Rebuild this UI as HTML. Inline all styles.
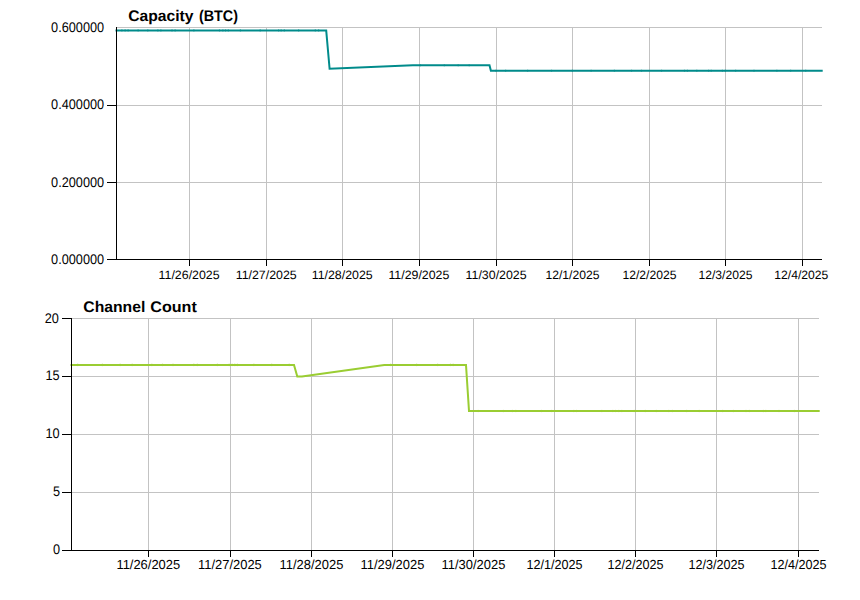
<!DOCTYPE html>
<html><head><meta charset="utf-8"><title>Charts</title>
<style>
html,body{margin:0;padding:0;background:#fff;}
svg{display:block;}
text{font-family:"Liberation Sans",Arial,sans-serif;fill:#000;text-rendering:geometricPrecision;}
</style></head>
<body>
<svg width="860" height="600" viewBox="0 0 860 600">
<rect width="860" height="600" fill="#fff"/>
<rect x="189" y="27" width="1" height="232" fill="#c3c3c3"/>
<rect x="266" y="27" width="1" height="232" fill="#c3c3c3"/>
<rect x="342" y="27" width="1" height="232" fill="#c3c3c3"/>
<rect x="419" y="27" width="1" height="232" fill="#c3c3c3"/>
<rect x="496" y="27" width="1" height="232" fill="#c3c3c3"/>
<rect x="572" y="27" width="1" height="232" fill="#c3c3c3"/>
<rect x="649" y="27" width="1" height="232" fill="#c3c3c3"/>
<rect x="725" y="27" width="1" height="232" fill="#c3c3c3"/>
<rect x="802" y="27" width="1" height="232" fill="#c3c3c3"/>
<rect x="117" y="27" width="705" height="1" fill="#c3c3c3"/>
<rect x="117" y="105" width="705" height="1" fill="#c3c3c3"/>
<rect x="117" y="182" width="705" height="1" fill="#c3c3c3"/>
<path d="M115.5,30.4 L326.2,30.4 L329.6,68.8 L412.8,65.2 L489.5,65.2 L490.9,70.75 L822.7,70.75" fill="none" stroke="#008b8b" stroke-width="2" stroke-linejoin="miter"/>
<rect x="116" y="27" width="1" height="233" fill="#000"/>
<rect x="116" y="259" width="706" height="1" fill="#000"/>
<rect x="107" y="105" width="9" height="1" fill="#000"/>
<rect x="107" y="182" width="9" height="1" fill="#000"/>
<rect x="107" y="259" width="9" height="1" fill="#000"/>
<rect x="189" y="260" width="1" height="6" fill="#000"/>
<rect x="266" y="260" width="1" height="6" fill="#000"/>
<rect x="342" y="260" width="1" height="6" fill="#000"/>
<rect x="419" y="260" width="1" height="6" fill="#000"/>
<rect x="496" y="260" width="1" height="6" fill="#000"/>
<rect x="572" y="260" width="1" height="6" fill="#000"/>
<rect x="649" y="260" width="1" height="6" fill="#000"/>
<rect x="725" y="260" width="1" height="6" fill="#000"/>
<rect x="802" y="260" width="1" height="6" fill="#000"/>
<text x="104.2" y="31.6" text-anchor="end" font-size="14" textLength="53.1" lengthAdjust="spacingAndGlyphs">0.600000</text>
<text x="104.2" y="108.6" text-anchor="end" font-size="14" textLength="53.1" lengthAdjust="spacingAndGlyphs">0.400000</text>
<text x="104.2" y="186.5" text-anchor="end" font-size="14" textLength="53.1" lengthAdjust="spacingAndGlyphs">0.200000</text>
<text x="104.2" y="263.6" text-anchor="end" font-size="14" textLength="53.1" lengthAdjust="spacingAndGlyphs">0.000000</text>
<text x="189.10" y="278.8" text-anchor="middle" font-size="12.1" textLength="61.0" lengthAdjust="spacingAndGlyphs">11/26/2025</text>
<text x="266.20" y="278.8" text-anchor="middle" font-size="12.1" textLength="61.0" lengthAdjust="spacingAndGlyphs">11/27/2025</text>
<text x="342.20" y="278.8" text-anchor="middle" font-size="12.1" textLength="61.0" lengthAdjust="spacingAndGlyphs">11/28/2025</text>
<text x="418.90" y="278.8" text-anchor="middle" font-size="12.1" textLength="61.0" lengthAdjust="spacingAndGlyphs">11/29/2025</text>
<text x="496.10" y="278.8" text-anchor="middle" font-size="12.1" textLength="61.0" lengthAdjust="spacingAndGlyphs">11/30/2025</text>
<text x="572.50" y="278.8" text-anchor="middle" font-size="12.1" textLength="54.0" lengthAdjust="spacingAndGlyphs">12/1/2025</text>
<text x="649.50" y="278.8" text-anchor="middle" font-size="12.1" textLength="54.0" lengthAdjust="spacingAndGlyphs">12/2/2025</text>
<text x="725.50" y="278.8" text-anchor="middle" font-size="12.1" textLength="54.0" lengthAdjust="spacingAndGlyphs">12/3/2025</text>
<text x="801.30" y="278.8" text-anchor="middle" font-size="12.1" textLength="54.0" lengthAdjust="spacingAndGlyphs">12/4/2025</text>
<text x="128.3" y="20.7" font-weight="bold" text-rendering="geometricPrecision" font-size="15.4" textLength="65.2" lengthAdjust="spacingAndGlyphs">Capacity</text>
<text x="199.0" y="20.7" font-weight="bold" text-rendering="geometricPrecision" font-size="15.4" textLength="39.0" lengthAdjust="spacingAndGlyphs">(BTC)</text>
<g><ellipse cx="121.9" cy="30.40" rx="0.75" ry="1.3" fill="#008b8b" fill-opacity="0.5"/>
<ellipse cx="125.1" cy="30.40" rx="0.75" ry="1.3" fill="#008b8b" fill-opacity="0.5"/>
<ellipse cx="128.1" cy="30.40" rx="0.75" ry="1.3" fill="#008b8b" fill-opacity="0.5"/>
<ellipse cx="138.1" cy="30.40" rx="0.75" ry="1.3" fill="#008b8b" fill-opacity="0.5"/>
<ellipse cx="147.8" cy="30.40" rx="0.75" ry="1.3" fill="#008b8b" fill-opacity="0.5"/>
<ellipse cx="157.9" cy="30.40" rx="0.75" ry="1.3" fill="#008b8b" fill-opacity="0.5"/>
<ellipse cx="160.9" cy="30.40" rx="0.75" ry="1.3" fill="#008b8b" fill-opacity="0.5"/>
<ellipse cx="172.0" cy="30.40" rx="0.75" ry="1.3" fill="#008b8b" fill-opacity="0.5"/>
<ellipse cx="175.1" cy="30.40" rx="0.75" ry="1.3" fill="#008b8b" fill-opacity="0.5"/>
<ellipse cx="193.9" cy="30.40" rx="0.75" ry="1.3" fill="#008b8b" fill-opacity="0.5"/>
<ellipse cx="219.5" cy="30.40" rx="0.75" ry="1.3" fill="#008b8b" fill-opacity="0.5"/>
<ellipse cx="222.9" cy="30.40" rx="0.75" ry="1.3" fill="#008b8b" fill-opacity="0.5"/>
<ellipse cx="225.5" cy="30.40" rx="0.75" ry="1.3" fill="#008b8b" fill-opacity="0.5"/>
<ellipse cx="228.3" cy="30.40" rx="0.75" ry="1.3" fill="#008b8b" fill-opacity="0.5"/>
<ellipse cx="240.4" cy="30.40" rx="0.75" ry="1.3" fill="#008b8b" fill-opacity="0.5"/>
<ellipse cx="260.2" cy="30.40" rx="0.75" ry="1.3" fill="#008b8b" fill-opacity="0.5"/>
<ellipse cx="278.6" cy="30.40" rx="0.75" ry="1.3" fill="#008b8b" fill-opacity="0.5"/>
<ellipse cx="281.1" cy="30.40" rx="0.75" ry="1.3" fill="#008b8b" fill-opacity="0.5"/>
<ellipse cx="284.3" cy="30.40" rx="0.75" ry="1.3" fill="#008b8b" fill-opacity="0.5"/>
<ellipse cx="298.6" cy="30.40" rx="0.75" ry="1.3" fill="#008b8b" fill-opacity="0.5"/>
<ellipse cx="315.3" cy="30.40" rx="0.75" ry="1.3" fill="#008b8b" fill-opacity="0.5"/>
<ellipse cx="318.6" cy="30.40" rx="0.75" ry="1.3" fill="#008b8b" fill-opacity="0.5"/>
<ellipse cx="420.4" cy="65.20" rx="0.75" ry="1.3" fill="#008b8b" fill-opacity="0.5"/>
<ellipse cx="444.3" cy="65.20" rx="0.75" ry="1.3" fill="#008b8b" fill-opacity="0.5"/>
<ellipse cx="458.2" cy="65.20" rx="0.75" ry="1.3" fill="#008b8b" fill-opacity="0.5"/>
<ellipse cx="469.2" cy="65.20" rx="0.75" ry="1.3" fill="#008b8b" fill-opacity="0.5"/>
<ellipse cx="495.9" cy="70.75" rx="0.75" ry="1.3" fill="#008b8b" fill-opacity="0.5"/>
<ellipse cx="505.6" cy="70.75" rx="0.75" ry="1.3" fill="#008b8b" fill-opacity="0.5"/>
<ellipse cx="527.6" cy="70.75" rx="0.75" ry="1.3" fill="#008b8b" fill-opacity="0.5"/>
<ellipse cx="551.5" cy="70.75" rx="0.75" ry="1.3" fill="#008b8b" fill-opacity="0.5"/>
<ellipse cx="572.3" cy="70.75" rx="0.75" ry="1.3" fill="#008b8b" fill-opacity="0.5"/>
<ellipse cx="591.1" cy="70.75" rx="0.75" ry="1.3" fill="#008b8b" fill-opacity="0.5"/>
<ellipse cx="614.4" cy="70.75" rx="0.75" ry="1.3" fill="#008b8b" fill-opacity="0.5"/>
<ellipse cx="631.5" cy="70.75" rx="0.75" ry="1.3" fill="#008b8b" fill-opacity="0.5"/>
<ellipse cx="641.5" cy="70.75" rx="0.75" ry="1.3" fill="#008b8b" fill-opacity="0.5"/>
<ellipse cx="661.5" cy="70.75" rx="0.75" ry="1.3" fill="#008b8b" fill-opacity="0.5"/>
<ellipse cx="684.5" cy="70.75" rx="0.75" ry="1.3" fill="#008b8b" fill-opacity="0.5"/>
<ellipse cx="687.4" cy="70.75" rx="0.75" ry="1.3" fill="#008b8b" fill-opacity="0.5"/>
<ellipse cx="696.8" cy="70.75" rx="0.75" ry="1.3" fill="#008b8b" fill-opacity="0.5"/>
<ellipse cx="708.6" cy="70.75" rx="0.75" ry="1.3" fill="#008b8b" fill-opacity="0.5"/>
<ellipse cx="711.2" cy="70.75" rx="0.75" ry="1.3" fill="#008b8b" fill-opacity="0.5"/>
<ellipse cx="722.4" cy="70.75" rx="0.75" ry="1.3" fill="#008b8b" fill-opacity="0.5"/>
<ellipse cx="725.3" cy="70.75" rx="0.75" ry="1.3" fill="#008b8b" fill-opacity="0.5"/>
<ellipse cx="735.6" cy="70.75" rx="0.75" ry="1.3" fill="#008b8b" fill-opacity="0.5"/>
<ellipse cx="754.0" cy="70.75" rx="0.75" ry="1.3" fill="#008b8b" fill-opacity="0.5"/>
<ellipse cx="776.9" cy="70.75" rx="0.75" ry="1.3" fill="#008b8b" fill-opacity="0.5"/>
<ellipse cx="790.6" cy="70.75" rx="0.75" ry="1.3" fill="#008b8b" fill-opacity="0.5"/>
<ellipse cx="805.7" cy="70.75" rx="0.75" ry="1.3" fill="#008b8b" fill-opacity="0.5"/></g>
<rect x="148" y="318" width="1" height="232" fill="#c3c3c3"/>
<rect x="230" y="318" width="1" height="232" fill="#c3c3c3"/>
<rect x="311" y="318" width="1" height="232" fill="#c3c3c3"/>
<rect x="392" y="318" width="1" height="232" fill="#c3c3c3"/>
<rect x="473" y="318" width="1" height="232" fill="#c3c3c3"/>
<rect x="554" y="318" width="1" height="232" fill="#c3c3c3"/>
<rect x="635" y="318" width="1" height="232" fill="#c3c3c3"/>
<rect x="716" y="318" width="1" height="232" fill="#c3c3c3"/>
<rect x="798" y="318" width="1" height="232" fill="#c3c3c3"/>
<rect x="72" y="318" width="747" height="1" fill="#c3c3c3"/>
<rect x="72" y="376" width="747" height="1" fill="#c3c3c3"/>
<rect x="72" y="434" width="747" height="1" fill="#c3c3c3"/>
<rect x="72" y="492" width="747" height="1" fill="#c3c3c3"/>
<path d="M70.5,364.9 L294,364.9 L297.3,376.5 L302,376.5 L384.3,364.9 L466,364.9 L469,411.05 L819.7,411.05" fill="none" stroke="#9acd32" stroke-width="2" stroke-linejoin="miter"/>
<rect x="71" y="318" width="1" height="233" fill="#000"/>
<rect x="71" y="550" width="748" height="1" fill="#000"/>
<rect x="62" y="318" width="9" height="1" fill="#000"/>
<rect x="62" y="376" width="9" height="1" fill="#000"/>
<rect x="62" y="434" width="9" height="1" fill="#000"/>
<rect x="62" y="492" width="9" height="1" fill="#000"/>
<rect x="62" y="550" width="9" height="1" fill="#000"/>
<rect x="148" y="551" width="1" height="6" fill="#000"/>
<rect x="230" y="551" width="1" height="6" fill="#000"/>
<rect x="311" y="551" width="1" height="6" fill="#000"/>
<rect x="392" y="551" width="1" height="6" fill="#000"/>
<rect x="473" y="551" width="1" height="6" fill="#000"/>
<rect x="554" y="551" width="1" height="6" fill="#000"/>
<rect x="635" y="551" width="1" height="6" fill="#000"/>
<rect x="716" y="551" width="1" height="6" fill="#000"/>
<rect x="798" y="551" width="1" height="6" fill="#000"/>
<text x="58.9" y="322.6" text-anchor="end" font-size="14" textLength="14.2" lengthAdjust="spacingAndGlyphs">20</text>
<text x="59.6" y="379.6" text-anchor="end" font-size="14" textLength="14.2" lengthAdjust="spacingAndGlyphs">15</text>
<text x="59.6" y="437.6" text-anchor="end" font-size="14" textLength="14.2" lengthAdjust="spacingAndGlyphs">10</text>
<text x="60.0" y="495.6" text-anchor="end" font-size="14" textLength="7.1" lengthAdjust="spacingAndGlyphs">5</text>
<text x="60.1" y="554.0" text-anchor="end" font-size="14" textLength="7.1" lengthAdjust="spacingAndGlyphs">0</text>
<text x="148.30" y="568.7" text-anchor="middle" font-size="13.1" textLength="63.8" lengthAdjust="spacingAndGlyphs">11/26/2025</text>
<text x="229.90" y="568.7" text-anchor="middle" font-size="13.1" textLength="63.8" lengthAdjust="spacingAndGlyphs">11/27/2025</text>
<text x="311.50" y="568.7" text-anchor="middle" font-size="13.1" textLength="63.8" lengthAdjust="spacingAndGlyphs">11/28/2025</text>
<text x="392.50" y="568.7" text-anchor="middle" font-size="13.1" textLength="63.8" lengthAdjust="spacingAndGlyphs">11/29/2025</text>
<text x="473.50" y="568.7" text-anchor="middle" font-size="13.1" textLength="63.8" lengthAdjust="spacingAndGlyphs">11/30/2025</text>
<text x="554.50" y="568.7" text-anchor="middle" font-size="13.1" textLength="56.2" lengthAdjust="spacingAndGlyphs">12/1/2025</text>
<text x="635.50" y="568.7" text-anchor="middle" font-size="13.1" textLength="56.2" lengthAdjust="spacingAndGlyphs">12/2/2025</text>
<text x="716.50" y="568.7" text-anchor="middle" font-size="13.1" textLength="56.2" lengthAdjust="spacingAndGlyphs">12/3/2025</text>
<text x="798.50" y="568.7" text-anchor="middle" font-size="13.1" textLength="56.2" lengthAdjust="spacingAndGlyphs">12/4/2025</text>
<text x="83.3" y="311.6" font-weight="bold" text-rendering="geometricPrecision" font-size="15.4" textLength="62.0" lengthAdjust="spacingAndGlyphs">Channel</text>
<text x="150.3" y="311.6" font-weight="bold" text-rendering="geometricPrecision" font-size="15.4" textLength="46.5" lengthAdjust="spacingAndGlyphs">Count</text>
<g><ellipse cx="77.7" cy="364.90" rx="0.75" ry="1.3" fill="#9acd32" fill-opacity="0.5"/>
<ellipse cx="102.4" cy="364.90" rx="0.75" ry="1.3" fill="#9acd32" fill-opacity="0.5"/>
<ellipse cx="120.1" cy="364.90" rx="0.75" ry="1.3" fill="#9acd32" fill-opacity="0.5"/>
<ellipse cx="132.2" cy="364.90" rx="0.75" ry="1.3" fill="#9acd32" fill-opacity="0.5"/>
<ellipse cx="151.9" cy="364.90" rx="0.75" ry="1.3" fill="#9acd32" fill-opacity="0.5"/>
<ellipse cx="162.5" cy="364.90" rx="0.75" ry="1.3" fill="#9acd32" fill-opacity="0.5"/>
<ellipse cx="173.0" cy="364.90" rx="0.75" ry="1.3" fill="#9acd32" fill-opacity="0.5"/>
<ellipse cx="193.8" cy="364.90" rx="0.75" ry="1.3" fill="#9acd32" fill-opacity="0.5"/>
<ellipse cx="197.3" cy="364.90" rx="0.75" ry="1.3" fill="#9acd32" fill-opacity="0.5"/>
<ellipse cx="217.4" cy="364.90" rx="0.75" ry="1.3" fill="#9acd32" fill-opacity="0.5"/>
<ellipse cx="229.1" cy="364.90" rx="0.75" ry="1.3" fill="#9acd32" fill-opacity="0.5"/>
<ellipse cx="232.1" cy="364.90" rx="0.75" ry="1.3" fill="#9acd32" fill-opacity="0.5"/>
<ellipse cx="234.8" cy="364.90" rx="0.75" ry="1.3" fill="#9acd32" fill-opacity="0.5"/>
<ellipse cx="237.4" cy="364.90" rx="0.75" ry="1.3" fill="#9acd32" fill-opacity="0.5"/>
<ellipse cx="253.9" cy="364.90" rx="0.75" ry="1.3" fill="#9acd32" fill-opacity="0.5"/>
<ellipse cx="271.7" cy="364.90" rx="0.75" ry="1.3" fill="#9acd32" fill-opacity="0.5"/>
<ellipse cx="289.2" cy="364.90" rx="0.75" ry="1.3" fill="#9acd32" fill-opacity="0.5"/>
<ellipse cx="390.7" cy="364.90" rx="0.75" ry="1.3" fill="#9acd32" fill-opacity="0.5"/>
<ellipse cx="416.6" cy="364.90" rx="0.75" ry="1.3" fill="#9acd32" fill-opacity="0.5"/>
<ellipse cx="437.6" cy="364.90" rx="0.75" ry="1.3" fill="#9acd32" fill-opacity="0.5"/>
<ellipse cx="450.5" cy="364.90" rx="0.75" ry="1.3" fill="#9acd32" fill-opacity="0.5"/>
<ellipse cx="453.1" cy="364.90" rx="0.75" ry="1.3" fill="#9acd32" fill-opacity="0.5"/>
<ellipse cx="478.1" cy="411.05" rx="0.75" ry="1.3" fill="#9acd32" fill-opacity="0.5"/>
<ellipse cx="503.4" cy="411.05" rx="0.75" ry="1.3" fill="#9acd32" fill-opacity="0.5"/>
<ellipse cx="512.4" cy="411.05" rx="0.75" ry="1.3" fill="#9acd32" fill-opacity="0.5"/>
<ellipse cx="515.8" cy="411.05" rx="0.75" ry="1.3" fill="#9acd32" fill-opacity="0.5"/>
<ellipse cx="541.5" cy="411.05" rx="0.75" ry="1.3" fill="#9acd32" fill-opacity="0.5"/>
<ellipse cx="551.7" cy="411.05" rx="0.75" ry="1.3" fill="#9acd32" fill-opacity="0.5"/>
<ellipse cx="573.9" cy="411.05" rx="0.75" ry="1.3" fill="#9acd32" fill-opacity="0.5"/>
<ellipse cx="576.5" cy="411.05" rx="0.75" ry="1.3" fill="#9acd32" fill-opacity="0.5"/>
<ellipse cx="601.9" cy="411.05" rx="0.75" ry="1.3" fill="#9acd32" fill-opacity="0.5"/>
<ellipse cx="612.9" cy="411.05" rx="0.75" ry="1.3" fill="#9acd32" fill-opacity="0.5"/>
<ellipse cx="615.5" cy="411.05" rx="0.75" ry="1.3" fill="#9acd32" fill-opacity="0.5"/>
<ellipse cx="618.8" cy="411.05" rx="0.75" ry="1.3" fill="#9acd32" fill-opacity="0.5"/>
<ellipse cx="621.9" cy="411.05" rx="0.75" ry="1.3" fill="#9acd32" fill-opacity="0.5"/>
<ellipse cx="634.1" cy="411.05" rx="0.75" ry="1.3" fill="#9acd32" fill-opacity="0.5"/>
<ellipse cx="645.3" cy="411.05" rx="0.75" ry="1.3" fill="#9acd32" fill-opacity="0.5"/>
<ellipse cx="656.3" cy="411.05" rx="0.75" ry="1.3" fill="#9acd32" fill-opacity="0.5"/>
<ellipse cx="668.9" cy="411.05" rx="0.75" ry="1.3" fill="#9acd32" fill-opacity="0.5"/>
<ellipse cx="672.4" cy="411.05" rx="0.75" ry="1.3" fill="#9acd32" fill-opacity="0.5"/>
<ellipse cx="686.6" cy="411.05" rx="0.75" ry="1.3" fill="#9acd32" fill-opacity="0.5"/>
<ellipse cx="699.2" cy="411.05" rx="0.75" ry="1.3" fill="#9acd32" fill-opacity="0.5"/>
<ellipse cx="722.7" cy="411.05" rx="0.75" ry="1.3" fill="#9acd32" fill-opacity="0.5"/>
<ellipse cx="733.4" cy="411.05" rx="0.75" ry="1.3" fill="#9acd32" fill-opacity="0.5"/>
<ellipse cx="746.0" cy="411.05" rx="0.75" ry="1.3" fill="#9acd32" fill-opacity="0.5"/>
<ellipse cx="749.3" cy="411.05" rx="0.75" ry="1.3" fill="#9acd32" fill-opacity="0.5"/>
<ellipse cx="763.3" cy="411.05" rx="0.75" ry="1.3" fill="#9acd32" fill-opacity="0.5"/>
<ellipse cx="765.9" cy="411.05" rx="0.75" ry="1.3" fill="#9acd32" fill-opacity="0.5"/>
<ellipse cx="779.0" cy="411.05" rx="0.75" ry="1.3" fill="#9acd32" fill-opacity="0.5"/>
<ellipse cx="794.4" cy="411.05" rx="0.75" ry="1.3" fill="#9acd32" fill-opacity="0.5"/></g>
</svg>
</body></html>
